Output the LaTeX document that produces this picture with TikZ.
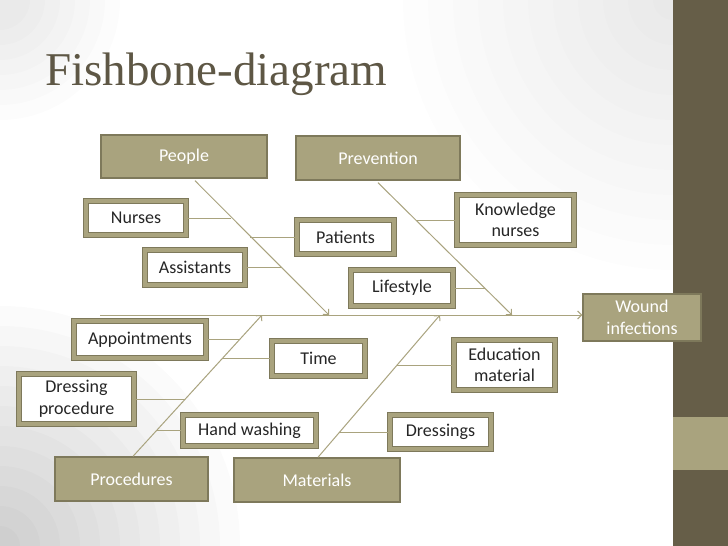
\documentclass[tikz,border=0pt]{standalone}
\usepackage{fontspec}
\setmainfont{Carlito}
\newfontfamily\titlefont{Liberation Serif}
\usepackage{tikz}
\usetikzlibrary{arrows.meta, calc, positioning}
\definecolor{boxfill}{HTML}{A9A37E}
\definecolor{boxline}{HTML}{7E795B}
\definecolor{bonecol}{HTML}{A9A37E}
\definecolor{sidebar}{HTML}{665E48}
\definecolor{titlecol}{HTML}{5E5745}

\begin{document}
\begin{tikzpicture}[
    x=1pt, y=-1pt,
    cause/.style={rectangle, draw=boxline, line width=1.4pt, fill=boxfill, text=white, inner sep=0pt, align=center, font=\fontsize{18}{21.5}\selectfont},
    item/.style={rectangle, draw=boxline, line width=0.9pt, double=boxfill, double distance=4.2pt, fill=white, text=black!85, inner sep=0pt, align=center, font=\fontsize{18}{21.5}\selectfont},
    bone/.style={draw=bonecol, line width=1pt, -{Straight Barb[length=4pt, width=8pt]}},
    twig/.style={draw=bonecol, line width=1pt}
]
    \useasboundingbox (0,0) rectangle (728,546);
    % slide background
    \fill[white] (0,0) rectangle (728,546);
    \begin{scope}
        \clip (0,0) rectangle (673,546);
        \foreach \r in {240,220,...,20}
            \fill[black, opacity=0.014] (0,546) circle (\r);
        \foreach \r in {120,105,...,30}
            \fill[black, opacity=0.01] (0,0) circle (\r);
        \foreach \r in {270,245,...,20}
            \fill[black, opacity=0.008] (673,0) circle (\r);
    \end{scope}
    \fill[sidebar] (673,0) rectangle (728,546);
    \fill[boxfill] (673,417) rectangle (728,470);

    % title
    \node[anchor=base west, inner sep=0pt, text=titlecol, font=\titlefont\fontsize{47}{50}\selectfont] (title) at (45,85) {Fishbone-diagram};

    % hoofdoorzaken
    \node[cause, minimum width=166pt, minimum height=43pt] (people) at (184,156.5) {People};
    \node[cause, minimum width=164pt, minimum height=44pt] (prevention) at (378,158) {Prevention};
    \node[cause, minimum width=153pt, minimum height=44pt] (procedures) at (131.5,479) {Procedures};
    \node[cause, minimum width=166pt, minimum height=44pt] (materials) at (317,480) {Materials};
    \node[cause, minimum width=118pt, minimum height=47pt] (wound) at (642,317.5) {Wound\\infections};

    % deeloorzaken
    \node[item, minimum width=100pt, minimum height=34pt] (nurses) at (136,218) {Nurses};
    \node[item, minimum width=100pt, minimum height=35pt] (assistants) at (195,267.5) {Assistants};
    \node[item, minimum width=97pt, minimum height=34pt] (patients) at (345.5,237) {Patients};
    \node[item, minimum width=117pt, minimum height=50pt] (knowledge) at (515.5,220) {Knowledge\\nurses};
    \node[item, minimum width=102pt, minimum height=36pt] (lifestyle) at (402,288) {Lifestyle};
    \node[item, minimum width=132pt, minimum height=37pt] (appointments) at (140,339.5) {Appointments};
    \node[item, minimum width=93pt, minimum height=35pt] (time) at (318.5,358.5) {Time};
    \node[item, minimum width=115pt, minimum height=50pt] (dressproc) at (76.5,399) {Dressing\\procedure};
    \node[item, minimum width=133pt, minimum height=31pt] (handwash) at (249.5,430.5) {Hand washing};
    \node[item, minimum width=101pt, minimum height=50pt] (education) at (504.5,365) {Education\\material};
    \node[item, minimum width=101pt, minimum height=34pt] (dressings) at (440.5,432) {Dressings};

    % ruggengraat
    \coordinate (spine) at (100,315);
    \coordinate (peoplej) at (329,315);
    \coordinate (preventionj) at (512,315);
    \coordinate (proceduresj) at (262,315);
    \coordinate (materialsj) at (440,315);
    \draw[bone] (spine) -- (spine -| wound.west);

    % graten
    \draw[bone] ([xshift=11pt, yshift=-2pt]people.south) -- (peoplej);
    \draw[bone] ([yshift=-2pt]prevention.south) -- (preventionj);
    \draw[bone] ([xshift=1.5pt]procedures.north) -- (proceduresj);
    \draw[bone] ([xshift=1pt]materials.north) -- (materialsj);

    % aansluitpunten op de graten
    \coordinate (nursesj) at (231.3,218);
    \coordinate (assistantsj) at (281.1,267.5);
    \coordinate (patientsj) at (250.4,237);
    \coordinate (knowledgej) at (416.3,220);
    \coordinate (lifestylej) at (484.8,288);
    \coordinate (appointmentsj) at (239.4,339.5);
    \coordinate (timej) at (221.9,358.5);
    \coordinate (dressprocj) at (184.6,399);
    \coordinate (handwashj) at (155.6,430.5);
    \coordinate (educationj) at (396.7,365);
    \coordinate (dressingsj) at (338.8,432);

    \draw[twig] (nurses) -- (nursesj);
    \draw[twig] (assistants) -- (assistantsj);
    \draw[twig] (patients) -- (patientsj);
    \draw[twig] (knowledge) -- (knowledgej);
    \draw[twig] (lifestyle) -- (lifestylej);
    \draw[twig] (appointments) -- (appointmentsj);
    \draw[twig] (time) -- (timej);
    \draw[twig] (dressproc) -- (dressprocj);
    \draw[twig] (handwash) -- (handwashj);
    \draw[twig] (education) -- (educationj);
    \draw[twig] (dressings) -- (dressingsj);
\end{tikzpicture}
\end{document}
